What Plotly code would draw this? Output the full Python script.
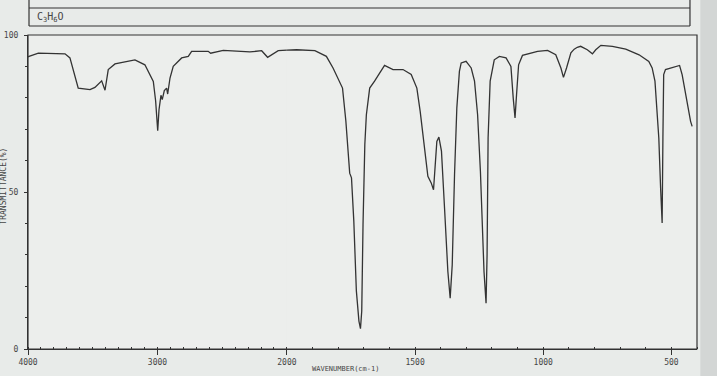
import plotly.graph_objects as go

# Wavenumber (cm-1) and transmittance (%)
wn_high = [4000, 3992, 3920, 3714, 3676, 3612, 3521, 3483, 3431, 3405, 3380, 3328, 3174, 3097,
           3032, 3014, 2998, 2988, 2973, 2963, 2947, 2929, 2921, 2903, 2878, 2813, 2762, 2736,
           2608, 2589, 2492, 2286, 2195, 2149, 2067, 2000]
t_high = [93.0, 93.2, 94.2, 94.0, 92.7, 83.1, 82.6, 83.3, 85.4, 82.4, 89.0, 90.8, 92.1, 90.5,
          85.2, 79.0, 69.5, 76.2, 80.8, 79.4, 82.3, 83.1, 81.2, 86.3, 90.0, 92.7, 93.2, 94.8,
          94.8, 94.2, 95.1, 94.6, 95.0, 92.9, 95.0, 95.2]

wn_low = [2000, 1962, 1891, 1846, 1820, 1800, 1783, 1770, 1765, 1761, 1755, 1748, 1739, 1729,
          1719, 1713, 1708, 1703, 1696, 1690, 1677, 1658, 1638, 1619, 1586, 1547, 1515, 1493,
          1480, 1463, 1450, 1437, 1428, 1423, 1415, 1407, 1397, 1385, 1372, 1363, 1355, 1346,
          1337, 1327, 1320, 1301, 1281, 1268, 1256, 1245, 1239, 1231, 1223, 1219, 1215, 1207,
          1191, 1171, 1145, 1126, 1117, 1110, 1104, 1096, 1081, 1042, 1022, 983, 951, 931,
          921, 909, 892, 879, 867, 854, 828, 808, 795, 775, 730, 678, 626, 588, 575, 564,
          555, 549, 542, 536, 533, 530, 523, 497, 477, 468, 458, 447, 435, 425, 419]
t_low = [95.2, 95.3, 95.0, 93.2, 89.5, 85.8, 83.1, 72.6, 67.2, 61.9, 56.0, 54.5, 40.8, 18.5,
         8.9, 6.5, 12.1, 39.6, 65.1, 74.6, 83.1, 85.3, 87.9, 90.3, 89.0, 89.0, 87.4, 83.1,
         75.7, 64.0, 55.0, 52.9, 50.7, 56.6, 66.1, 67.5, 63.0, 44.9, 24.7, 16.2, 26.8, 55.5,
         76.8, 88.4, 91.1, 91.6, 89.5, 85.3, 74.6, 56.6, 40.7, 24.7, 14.6, 30.0, 67.2, 85.3,
         92.1, 93.2, 92.7, 90.0, 79.9, 73.6, 81.0, 90.5, 93.5, 94.3, 94.8, 95.1, 93.7, 89.5,
         86.5, 89.5, 94.3, 95.5, 96.1, 96.4, 95.3, 94.0, 95.3, 96.7, 96.4, 95.5, 93.7, 91.6,
         89.5, 85.3, 75.7, 67.2, 51.3, 40.1, 67.2, 87.4, 89.0, 89.5, 90.0, 90.3, 87.4, 82.1,
         76.8, 72.5, 70.9]

x_ticks_high = [4000, 3500, 3000, 2500, 2000]
x_text_high = ["4000", "", "3000", "", "2000"]
x_ticks_low = [2000, 1500, 1000, 500]
x_text_low = ["", "1500", "1000", "500"]
x_minor_high = list(range(2000, 4001, 100))
x_minor_low = list(range(400, 2001, 100))
y_ticks = [0, 50, 100]
y_text = ["0", "50", "100"]
y_minor = list(range(0, 101, 10))

formula = "C<sub>3</sub>H<sub>6</sub>O"
x_title = "WAVENUMBER(cm-1)"
y_title = "TRANSMITTANCE(%)"

ink = "#333333"
txt = "#454545"
font_fam = "DejaVu Sans Mono"
split = 0.387

fig = go.Figure()
fig.add_trace(go.Scatter(x=wn_high, y=t_high, mode="lines", xaxis="x", yaxis="y",
                         line=dict(color=ink, width=1.3), showlegend=False))
fig.add_trace(go.Scatter(x=wn_low, y=t_low, mode="lines", xaxis="x2", yaxis="y",
                         line=dict(color=ink, width=1.3), showlegend=False))

common_x = dict(showgrid=False, zeroline=False, showline=True, linecolor=ink, linewidth=1.2,
                ticks="outside", ticklen=5, tickwidth=1.2, tickcolor=ink, automargin=False,
                tickfont=dict(family=font_fam, size=8, color=txt))
fig.update_layout(
    width=717, height=376,
    margin=dict(l=28, r=20, t=35, b=27, autoexpand=False),
    paper_bgcolor="#e8ebe9", plot_bgcolor="#eceeec",
    xaxis=dict(domain=[0, split], range=[4000, 2000], anchor="y",
               tickvals=x_ticks_high, ticktext=x_text_high,
               minor=dict(tickmode="array", tickvals=x_minor_high, ticks="inside",
                          ticklen=2, tickwidth=1.2, tickcolor=ink, showgrid=False),
               **common_x),
    xaxis2=dict(domain=[split, 1], range=[2000, 400], anchor="y",
                tickvals=x_ticks_low, ticktext=x_text_low,
                minor=dict(tickmode="array", tickvals=x_minor_low, ticks="inside",
                           ticklen=2, tickwidth=1.2, tickcolor=ink, showgrid=False),
                **common_x),
    yaxis=dict(range=[0, 100], anchor="x", showgrid=False, zeroline=False,
               showline=True, linecolor=ink, linewidth=1.2,
               tickvals=y_ticks, ticktext=y_text, ticks="outside", ticklen=3, tickwidth=1.2,
               tickcolor=ink, ticklabelstandoff=4, automargin=False,
               minor=dict(tickmode="array", tickvals=y_minor, ticks="outside",
                          ticklen=2, tickwidth=1.2, tickcolor=ink, showgrid=False),
               tickfont=dict(family=font_fam, size=8, color=txt)),
    shapes=[
        dict(type="rect", xref="paper", yref="paper", x0=0, x1=1, y0=0, y1=1,
             line=dict(color=ink, width=1.2)),
        dict(type="line", xref="paper", yref="paper", x0=0.0015, x1=0.9895, y0=1.086, y1=1.086,
             line=dict(color=ink, width=1.2)),
        dict(type="line", xref="paper", yref="paper", x0=0.0015, x1=0.9895, y0=1.0287, y1=1.0287,
             line=dict(color=ink, width=1.2)),
        dict(type="line", xref="paper", yref="paper", x0=0.0015, x1=0.0015, y0=1.0287, y1=1.2,
             line=dict(color=ink, width=1.2)),
        dict(type="line", xref="paper", yref="paper", x0=0.9895, x1=0.9895, y0=1.0287, y1=1.2,
             line=dict(color=ink, width=1.2)),
        dict(type="rect", xref="paper", yref="paper", x0=1.005, x1=1.1, y0=-0.2, y1=1.2,
             fillcolor="#d3d6d5", line=dict(width=0), layer="below"),
    ],
    annotations=[
        dict(text=formula, xref="paper", yref="paper", x=0.0105, y=1.057, xanchor="left",
             yanchor="middle", showarrow=False,
             font=dict(family=font_fam, size=10, color=txt)),
        dict(text=x_title, xref="paper", yref="paper", x=0.474, y=-0.045, xanchor="center",
             yanchor="top", showarrow=False, font=dict(family=font_fam, size=7, color=txt)),
        dict(text=y_title, xref="paper", yref="paper", x=-0.036, y=0.52, xanchor="center",
             yanchor="middle", textangle=-90, showarrow=False,
             font=dict(family=font_fam, size=8, color=txt)),
    ],
)

fig.write_html("out.html", config={"displayModeBar": False},
               post_script="document.body.style.margin='0';document.body.style.background='#e8ebe9';")
